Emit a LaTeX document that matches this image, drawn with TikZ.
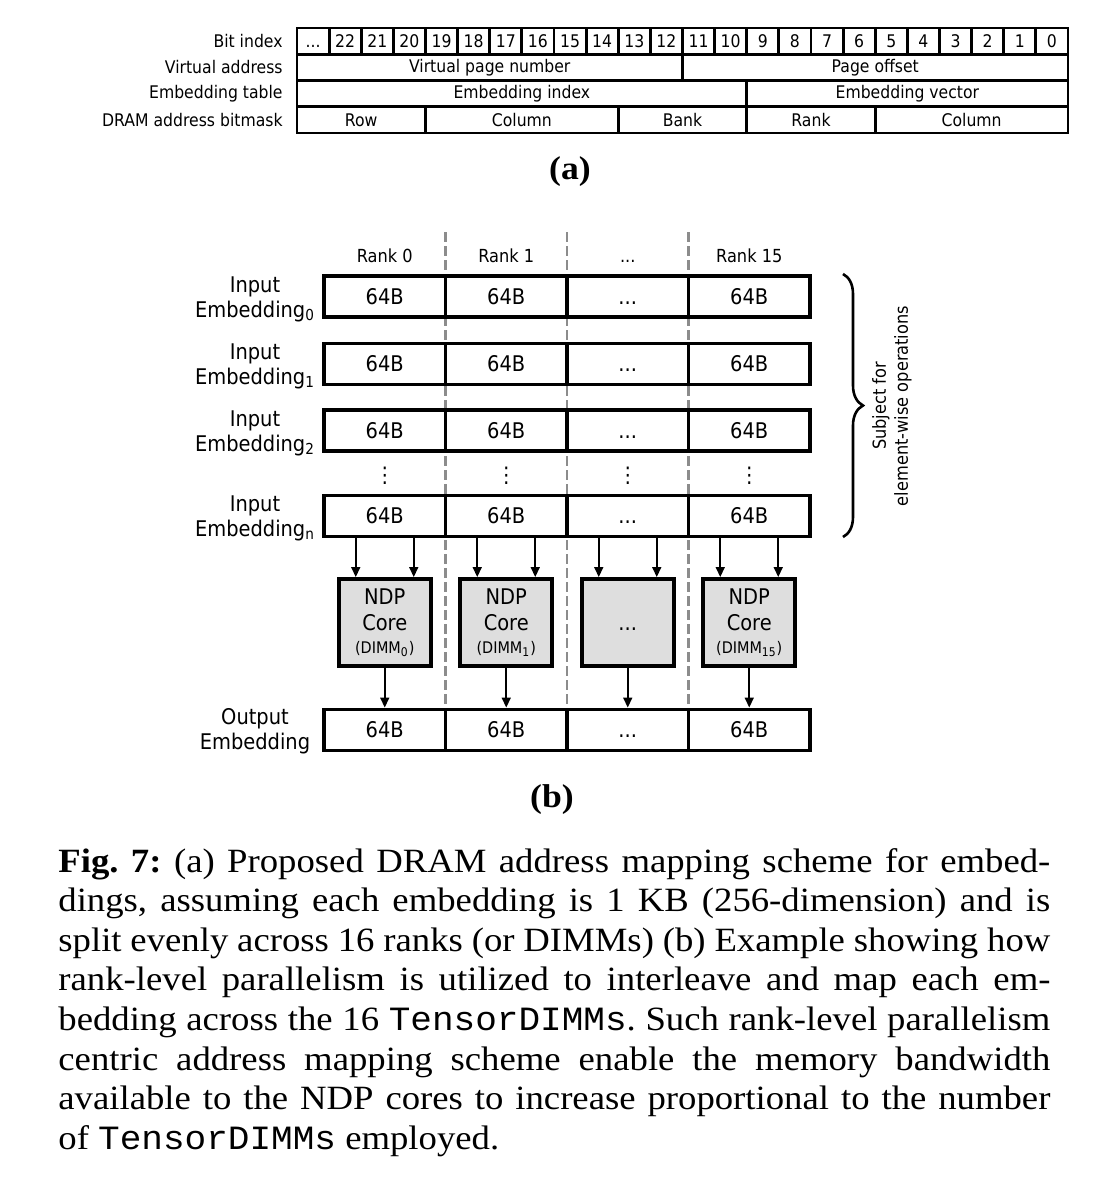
\documentclass[tikz,border=0pt]{standalone}
\usepackage{fontspec}
\usetikzlibrary{arrows.meta,decorations.pathreplacing}
\newfontfamily\dfont[FakeStretch=0.9]{DejaVu Sans}
\newfontfamily\cfont[FakeStretch=1.08]{Liberation Serif}
\newfontfamily\mfont[FakeStretch=1.06]{Liberation Mono}
\newcommand\tabfnt{\dfont\fontsize{8.7}{10}\selectfont}
\newcommand\cellfnt{\dfont\fontsize{10.8}{12.5}\selectfont}
\newcommand\rankfnt{\dfont\fontsize{9}{11}\selectfont}
\newcommand\dimmfnt{\dfont\fontsize{8}{10}\selectfont}
\newcommand\bracefnt{\dfont\fontsize{9}{11}\selectfont}
\newcommand\capfnt{\cfont\fontsize{17}{20}\selectfont}
\newcommand\myell{\vphantom{0}...}
\frenchspacing
\begin{document}
\begin{tikzpicture}[
  x=0.5pt, y=-0.5pt,
  tcell/.style={draw, line width=1.4pt, minimum height=13.125pt, inner sep=0pt, font=\tabfnt},
  tlab/.style={anchor=east, inner sep=0pt, font=\tabfnt},
  ecell/.style={draw, line width=1.9pt, fill=white, minimum width=60.75pt, minimum height=20.5pt, inner sep=0pt, font=\cellfnt},
  elab/.style={align=center, inner sep=0pt, font=\cellfnt},
  rankhd/.style={inner sep=0pt, font=\rankfnt},
  core/.style={draw, line width=1.9pt, fill=black!13, minimum width=46pt, minimum height=43.5pt, inner sep=0pt, align=center, font=\cellfnt},
  arr/.style={line width=1pt, -{Triangle[length=5pt,width=4.4pt]}},
  sep/.style={draw=black!45, line width=1.4pt, dash pattern=on 5pt off 2pt},
  capl/.style={anchor=base west, inner sep=0pt, font=\capfnt},
  sublab/.style={inner sep=0pt, font=\cfont\fontsize{16.5}{19.8}\selectfont\bfseries}
]
\fill[white] (0,0) rectangle (1098,1200);
\useasboundingbox (0,0) rectangle (1098,1200);

% ---------------- (a) table ----------------
\node[tlab] (lbit) at (283,41.125) {Bit index};
\node[tlab] (lva) at (283,67.375) {Virtual address};
\node[tlab] (let) at (283,93.625) {Embedding table};
\node[tlab] (ldram) at (283,119.875) {DRAM address bitmask};

\node[tcell, minimum width=16.0625pt] (bitdots) at (313.0625,41.125) {\myell};
\foreach \n in {0,...,22}{
  \pgfmathsetmacro\cx{297+32.125*(22-\n)+48.1875}
  \node[tcell, minimum width=16.0625pt] (bit\n) at (\cx,41.125) {\n};
}
\node[tcell, minimum width=192.75pt] (vpn) at (489.75,67.375) {Virtual page number};
\node[tcell, minimum width=192.75pt] (poff) at (875.25,67.375) {Page offset};
\node[tcell, minimum width=224.875pt] (eidx) at (521.875,93.625) {Embedding index};
\node[tcell, minimum width=160.625pt] (evec) at (907.375,93.625) {Embedding vector};
\node[tcell, minimum width=64.25pt] (drow) at (361.25,119.875) {Row};
\node[tcell, minimum width=96.375pt] (dcol1) at (521.875,119.875) {Column};
\node[tcell, minimum width=64.25pt] (dbank) at (682.5,119.875) {Bank};
\node[tcell, minimum width=64.25pt] (drank) at (811,119.875) {Rank};
\node[tcell, minimum width=96.375pt] (dcol2) at (971.625,119.875) {Column};

\node[sublab] (suba) at (570,172) {(a)};

% ---------------- (b) ----------------
\foreach \xx in {445.5,567,688.5}{
  \draw[sep] (\xx,232) -- (\xx,709);
}

\node[rankhd] (rk0) at (384.75,256) {Rank 0};
\node[rankhd] (rk1) at (506.25,256) {Rank 1};
\node[rankhd] (rk2) at (627.75,256) {\myell};
\node[rankhd] (rk3) at (749.25,256) {Rank 15};

\foreach \r/\yy in {r0/296.5, r1/364, r2/430.5, rn/516, out/730}{
  \node[ecell] (\r0) at (384.75,\yy) {64B};
  \node[ecell] (\r1) at (506.25,\yy) {64B};
  \node[ecell] (\r2) at (627.75,\yy) {\myell};
  \node[ecell] (\r3) at (749.25,\yy) {64B};
}

\foreach \k/\xx in {0/384.75, 1/506.25, 2/627.75, 3/749.25}{
  \node[elab] (vd\k) at (\xx,476) {⋮};
}

\node[elab] (lab0) at (255,299) {Input\\Embedding\textsubscript{0}};
\node[elab] (lab1) at (255,366) {Input\\Embedding\textsubscript{1}};
\node[elab] (lab2) at (255,433) {Input\\Embedding\textsubscript{2}};
\node[elab] (labn) at (255,518) {Input\\Embedding\textsubscript{n}};
\node[elab] (labout) at (255,731) {Output\\Embedding};

\node[core] (core0) at (384.75,622.5) {NDP\\[0.5pt]Core\\[-1pt]{\dimmfnt(DIMM\textsubscript{0})}};
\node[core] (core1) at (506.25,622.5) {NDP\\[0.5pt]Core\\[-1pt]{\dimmfnt(DIMM\textsubscript{1})}};
\node[core] (core2) at (627.75,622.5) {\myell};
\node[core] (core3) at (749.25,622.5) {NDP\\[0.5pt]Core\\[-1pt]{\dimmfnt(DIMM\textsubscript{15})}};

\foreach \k in {0,1,2,3}{
  \draw[arr] ([xshift=-14.5pt]rn\k.south) -- ([xshift=-14.5pt]core\k.north);
  \draw[arr] ([xshift=14.5pt]rn\k.south) -- ([xshift=14.5pt]core\k.north);
  \draw[arr] (core\k.south) -- (out\k.north);
}

\coordinate (brtop) at (843,274);
\coordinate (brbot) at (843,537);
\draw[line width=1.3pt, decorate, decoration={brace, amplitude=10pt}] (brtop) -- (brbot);
\node[rotate=90, align=center, inner sep=0pt, font=\bracefnt] (brtxt) at (892,406) {Subject for\\element-wise operations};

\node[sublab] (subb) at (552,800) {(b)};

% ---------------- caption ----------------
\node[capl] (cap1) at (58,872) {\makebox[496pt][s]{\textbf{Fig. 7:} (a) Proposed DRAM address mapping scheme for embed-}};
\node[capl] (cap2) at (58,911.6) {\makebox[496pt][s]{dings, assuming each embedding is 1 KB (256-dimension) and is}};
\node[capl] (cap3) at (58,951.2) {\makebox[496pt][s]{split evenly across 16 ranks (or DIMMs) (b) Example showing how}};
\node[capl] (cap4) at (58,990.8) {\makebox[496pt][s]{rank-level parallelism is utilized to interleave and map each em-}};
\node[capl] (cap5) at (58,1030.4) {\makebox[496pt][s]{bedding across the 16 {\mfont TensorDIMMs}. Such rank-level parallelism}};
\node[capl] (cap6) at (58,1070) {\makebox[496pt][s]{centric address mapping scheme enable the memory bandwidth}};
\node[capl] (cap7) at (58,1109.6) {\makebox[496pt][s]{available to the NDP cores to increase proportional to the number}};
\node[capl] (cap8) at (58,1149.2) {of {\mfont TensorDIMMs} employed.};
\end{tikzpicture}
\end{document}
